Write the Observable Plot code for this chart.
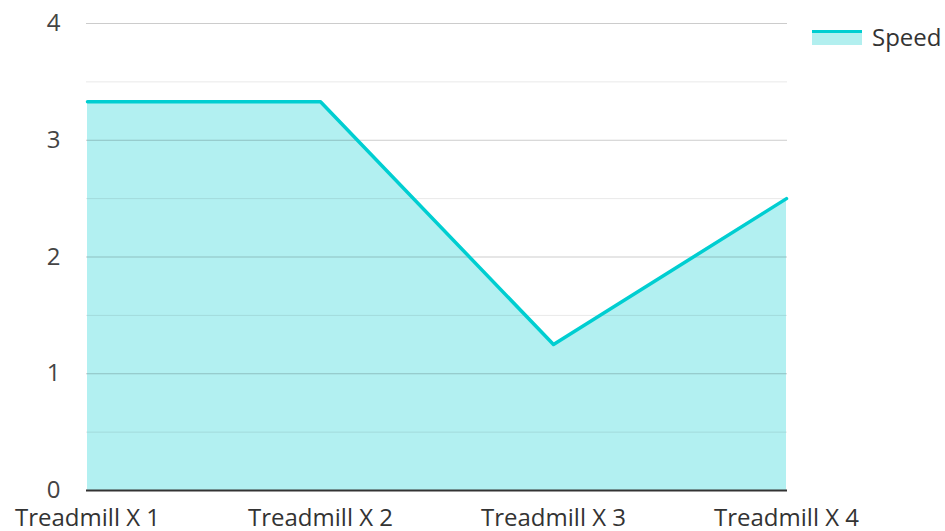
<!DOCTYPE html>
<html>
<head>
<meta charset="utf-8">
<script src="https://cdn.jsdelivr.net/npm/d3@7"></script>
<script src="https://cdn.jsdelivr.net/npm/@observablehq/plot@0.6"></script>
<style>
  html, body { margin: 0; padding: 0; background: #fff; }
  #wrap { position: relative; width: 945px; height: 531px; overflow: hidden; font-family: "Open Sans", sans-serif; }
  #legend { position: absolute; left: 812px; top: 20px; display: flex; align-items: center; font-size: 24px; color: #333; }
  #legend .sw { width: 50px; height: 15px; margin-right: 10px; margin-top: 2px; background: #b2efef; border-top: 3px solid #00ced1; box-sizing: border-box; }
</style>
</head>
<body>
<div id="wrap"><div id="legend"><div class="sw"></div><span>Speed</span></div></div>
<script>
const categories = ["Treadmill X 1", "Treadmill X 2", "Treadmill X 3", "Treadmill X 4"];
const speed = [3.33, 3.33, 1.25, 2.5];
const majorTicks = [0, 1, 2, 3, 4];
const minorTicks = [0.5, 1.5, 2.5, 3.5];

const data = categories.map((c, i) => ({category: c, speed: speed[i]}));

const chart = Plot.plot({
  width: 945,
  height: 531,
  marginLeft: 86,
  marginRight: 158,
  marginTop: 23,
  marginBottom: 41,
  style: {fontFamily: "Open Sans, sans-serif", background: "transparent"},
  x: {type: "point", domain: categories, padding: 0},
  y: {domain: [0, 4]},
  marks: [
    Plot.areaY(data, {x: "category", y: "speed", fill: "#00ced1", fillOpacity: 0.3}),
    Plot.ruleY(minorTicks, {stroke: "#000", strokeOpacity: 0.09, strokeWidth: 1}),
    Plot.ruleY(majorTicks.filter(d => d > 0), {stroke: "#000", strokeOpacity: 0.2, strokeWidth: 1}),
    Plot.lineY(data, {x: "category", y: "speed", stroke: "#00ced1", strokeWidth: 3.5}),
    Plot.ruleY([0], {stroke: "#333333", strokeWidth: 2}),
    Plot.axisY(majorTicks, {tickSize: 0, tickPadding: 26, fontSize: 24, fill: "#444", label: null, tickFormat: "d"}),
    Plot.axisX({tickSize: 0, tickPadding: 18, fontSize: 24, fill: "#333", label: null})
  ]
});
document.getElementById("wrap").prepend(chart);
</script>
</body>
</html>
